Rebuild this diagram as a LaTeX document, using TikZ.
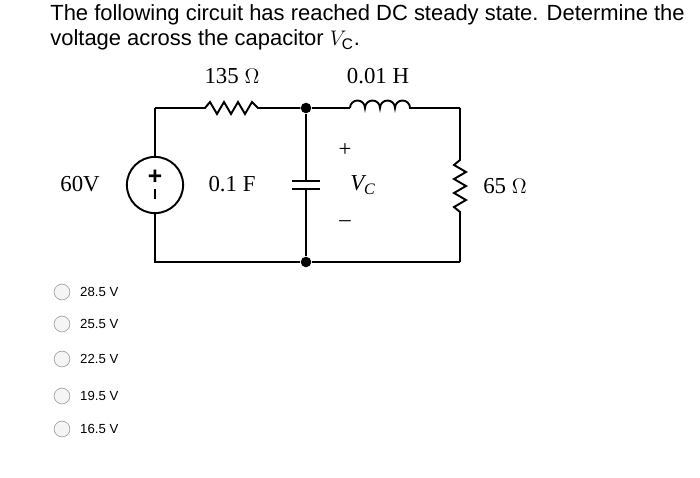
\documentclass[tikz,border=0pt]{standalone}
\usepackage{fontspec}
\setmainfont{Liberation Sans}
\newfontfamily\lblfont{Liberation Serif}
\begin{document}
\begin{tikzpicture}[x=0.02cm,y=-0.02cm,
  wire/.style={line width=1.1pt},
  dot/.style={circle,fill,inner sep=0pt,minimum size=6pt},
  lbl/.style={font=\lblfont\fontsize{13pt}{15pt}\selectfont},
  opt/.style={circle,draw=gray!70,fill=gray!8,minimum size=9pt,inner sep=0pt},
  opttxt/.style={font=\fontsize{7.5pt}{9pt}\selectfont,anchor=west}]
  \useasboundingbox (0,0) rectangle (700,477);
  % question
  \node[anchor=north west,align=left,font=\fontsize{12.5pt}{14.5pt}\selectfont,inner sep=0pt] (q) at (50,4)
    {The following circuit has reached DC steady state. Determine the\\voltage across the capacitor $V_{\mathrm{C}}$.};
  % corners and junctions
  \coordinate (tl) at (155,108);
  \coordinate (bl) at (155,262);
  \coordinate (tr) at (460,108);
  \coordinate (br) at (460,262);
  \node[dot] (nt) at (306,108) {};
  \node[dot] (nb) at (306,262) {};
  % source
  \node[circle,draw,line width=1.1pt,minimum size=32pt,inner sep=0pt] (src) at (155,185) {};
  \node[font=\bfseries\fontsize{14pt}{14pt}\selectfont] at (155,177) {+};
  \draw[line width=1.3pt] (155,189) -- (155,199);
  % resistor 135
  \coordinate (r1a) at (205,108);
  \coordinate (r1b) at (260,108);
  \draw[wire] (tl) -- (r1a) -- ++(5,-6) -- ++(7,12) -- ++(7,-12) -- ++(7,12) -- ++(7,-12) -- ++(7,12) -- ++(7,-12) -- ++(6,6) -- (r1b) -- (nt);
  % inductor
  \coordinate (la) at (350,108);
  \coordinate (lb) at (410,108);
  \draw[wire] (nt) -- (la);
  \draw[wire] (la) \foreach \i in {0,1,2,3} {arc[start angle=180,end angle=360,radius=7.5]} -- (lb) -- (tr);
  % right resistor
  \coordinate (r2a) at (460,160);
  \coordinate (r2b) at (460,220);
  \draw[wire] (tr) -- (r2a) -- ++(-6,5) -- ++(12,7) -- ++(-12,7) -- ++(12,7) -- ++(-12,7) -- ++(12,7) -- ++(-12,7) -- ++(6,5) -- (r2b) -- (br);
  % left and bottom wires
  \draw[wire] (tl) -- (src.north);
  \draw[wire] (src.south) -- (bl) -- (nb) -- (br);
  % capacitor
  \coordinate (ca) at (306,181);
  \coordinate (cb) at (306,189);
  \draw[wire] (nt) -- (ca) (cb) -- (nb);
  \draw[wire] (292,181) -- (320,181) (292,189) -- (320,189);
  % labels
  \node[lbl] (l135) at (232,76) {135 $\Omega$};
  \node[lbl] (lL) at (378,76) {0.01 H};
  \node[lbl] (lV) at (80,184) {60V};
  \node[lbl] (lC) at (232,184) {0.1 F};
  \node[lbl] (lp) at (345,150) {+};
  \node[lbl] (lvc) at (363,185) {\itshape V\textsubscript{C}};
  \node[lbl] (lm) at (345,224) {\textendash};
  \node[lbl] (l65) at (505,186) {65 $\Omega$};
  % options
  \foreach \y/\t in {292/28.5 V,324/25.5 V,359/22.5 V,396/19.5 V,429/16.5 V}{
    \node[opt] at (62,\y) {};
    \node[opttxt] at (74,\y) {\t};
  }
\end{tikzpicture}
\end{document}
